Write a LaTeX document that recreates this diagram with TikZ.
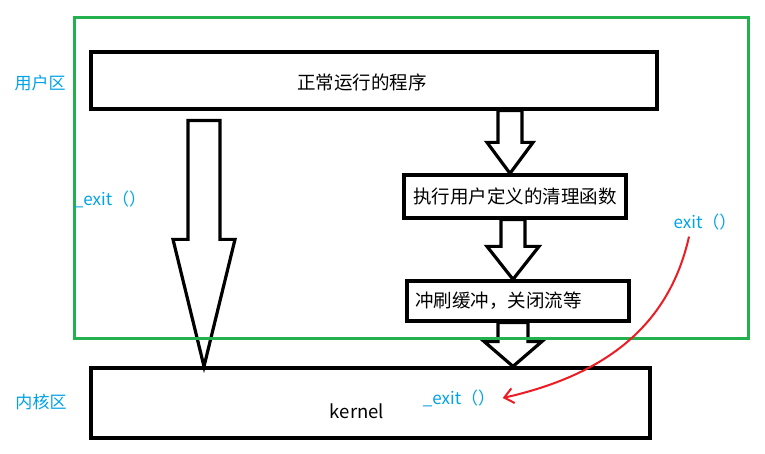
\documentclass[tikz,border=0pt]{standalone}
\usepackage{fontspec}
\setmainfont{Noto Sans CJK SC}
\usetikzlibrary{arrows.meta,positioning,calc}
\definecolor{zoneblue}{RGB}{0,162,232}
\definecolor{zonegreen}{RGB}{34,177,76}
\definecolor{callred}{RGB}{237,28,36}
% hollow block arrow: x, from node, to node, gap, head length, shaft half, head half
\newcommand{\hollowarrow}[7]{%
  \draw[blockarrow] let \p1=(#2.south), \p2=(#3.north) in
    ({#1pt-#6pt},{\y1-#4pt}) -- ({#1pt-#6pt},{\y2+#5pt}) -- ({#1pt-#7pt},{\y2+#5pt})
    -- ({#1pt},{\y2}) -- ({#1pt+#7pt},{\y2+#5pt}) -- ({#1pt+#6pt},{\y2+#5pt})
    -- ({#1pt+#6pt},{\y1-#4pt}) -- cycle;}
\begin{document}
\begin{tikzpicture}[x=1pt,y=-1pt,
  stepbox/.style={draw,line width=3.2pt,inner sep=0pt,fill=white},
  blockarrow/.style={draw,line width=3.2pt,fill=white,line join=miter},
  zonetext/.style={text=zoneblue,font=\fontsize{17}{20}\selectfont},
  boxtext/.style={font=\fontsize{18.5}{22}\selectfont}
]
  \useasboundingbox (0,0) rectangle (765,454);
  \node[zonetext] (userlbl) at (40,83) {用户区};
  \node[zonetext] (kernlbl) at (41,402) {内核区};
  % boxes
  \node[stepbox,minimum width=566pt,minimum height=57pt] (prog) at (374,80.5) {};
  \node[boxtext] (progtxt) at (362,82) {正常运行的程序};
  \node[stepbox,boxtext,minimum width=222pt,minimum height=43pt] (clean) at (515,196.5) {执行用户定义的清理函数};
  \node[stepbox,boxtext,minimum width=222pt,minimum height=40pt,text width=206pt,align=left] (flush) at (518,301) {冲刷缓冲，关闭流等};
  \node[stepbox,minimum width=559pt,minimum height=70pt] (kernel) at (370.5,403) {};
  \node[boxtext] (kerntxt) at (357,411) {kernel};
  % block arrows
  \hollowarrow{204}{prog}{kernel}{10}{127}{16}{31}
  \hollowarrow{510}{prog}{clean}{0}{31}{12}{23}
  \hollowarrow{513}{clean}{flush}{0}{33}{12}{26}
  \hollowarrow{513}{flush}{kernel}{0}{25}{15}{29}
  % user zone, over the arrows
  \node[draw=zonegreen,line width=3pt,minimum width=674pt,minimum height=320pt,inner sep=0pt] (userzone) at (411,178) {};
  % calls
  \node[zonetext] (exitleft) at (110,199) {\_exit（）};
  \node[zonetext] (exitcall) at (705,222) {exit（）};
  \node[zonetext] (exitkern) at (459,398) {\_exit（）};
  \draw[callred,line width=2pt,-{Straight Barb[length=9pt,width=15pt]}]
    ([xshift=-16pt,yshift=-3pt]exitcall.south) .. controls (668,330) and (600,376) .. ([xshift=4pt]exitkern.east);
\end{tikzpicture}
\end{document}
